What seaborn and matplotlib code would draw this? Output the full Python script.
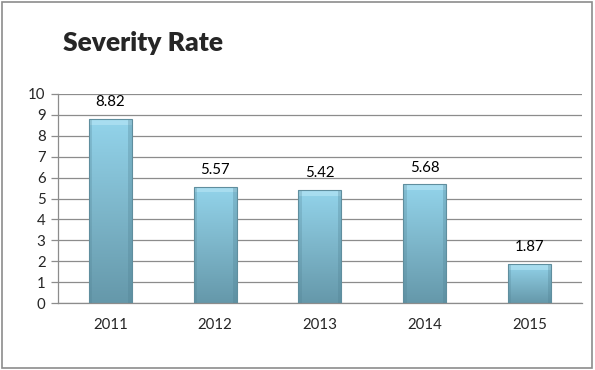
import numpy as np
import pandas as pd
import matplotlib
matplotlib.use("Agg")
import matplotlib.pyplot as plt
import matplotlib.patches as mpatches
from matplotlib.colors import LinearSegmentedColormap
import seaborn as sns

# data
years = ["2011", "2012", "2013", "2014", "2015"]
severity = [8.82, 5.57, 5.42, 5.68, 1.87]
y_ticks = list(range(0, 11))

df = pd.DataFrame({"year": years, "rate": severity})

sns.set_style("white")
plt.rcParams["font.family"] = ["Lato", "DejaVu Sans"]

fig = plt.figure(figsize=(5.95, 3.70), dpi=100)
ax = fig.add_axes([0.0975, 0.181, 0.8805, 0.565])

sns.barplot(data=df, x="year", y="rate", color="#8ccde4", width=0.41,
            saturation=1, ax=ax, zorder=3)

# gradient fill on each bar, light at the top and darker at the bottom
cmap = LinearSegmentedColormap.from_list("bar", ["#6598aa", "#7db6ca", "#93d4eb"])
grad = np.linspace(0, 1, 256).reshape(-1, 1)
for p in ax.patches:
    x0, y0 = p.get_x(), p.get_y()
    w, h = p.get_width(), p.get_height()
    p.set_facecolor("none")
    p.set_edgecolor("#5f8e9e")
    p.set_linewidth(0.8)
    im = ax.imshow(grad, cmap=cmap, origin="lower", aspect="auto",
                   extent=[x0, x0 + w, y0, y0 + h], zorder=2.5)
    im.set_clip_path(p)
    # bevel highlight at the top edge and the sides
    ax.add_patch(mpatches.Rectangle((x0, y0 + h - 0.28), w, 0.28,
                                    facecolor="#b8e6f5", alpha=0.6,
                                    edgecolor="none", zorder=2.7))
    ax.add_patch(mpatches.Rectangle((x0, y0), w * 0.08, h,
                                    facecolor="#4f7f90", alpha=0.25,
                                    edgecolor="none", zorder=2.7))
    ax.add_patch(mpatches.Rectangle((x0 + w * 0.92, y0), w * 0.08, h,
                                    facecolor="#4f7f90", alpha=0.3,
                                    edgecolor="none", zorder=2.7))
    ax.annotate(f"{h:.2f}", (x0 + w / 2, h), xytext=(0, 7),
                textcoords="offset points", ha="center", va="bottom",
                fontsize=10.8, color="#000000")

ax.set_xlim(-0.5, len(years) - 0.5)
ax.set_ylim(0, 10)
ax.set_yticks(y_ticks)
ax.yaxis.grid(True, color="#8c8c8c", linewidth=0.9, zorder=0)
ax.set_axisbelow(True)
ax.set_xlabel("")
ax.set_ylabel("")

for side in ["top", "right"]:
    ax.spines[side].set_visible(False)
for side in ["left", "bottom"]:
    ax.spines[side].set_color("#8c8c8c")
    ax.spines[side].set_linewidth(0.9)

ax.set_xticks(np.arange(-0.5, len(years)), minor=True)
ax.tick_params(axis="x", which="major", length=0, pad=11, labelsize=10.8)
ax.tick_params(axis="x", which="minor", length=5, color="#8c8c8c", width=0.9,
               direction="out")
ax.tick_params(axis="y", length=5, color="#8c8c8c", width=0.9, labelsize=10.8,
               pad=4, left=True, direction="out")

fig.text(0.106, 0.885, "Severity Rate", fontsize=19, fontweight="heavy",
         ha="left", va="center")

# outer chart border
fig.add_artist(mpatches.Rectangle((0.004, 0.006), 0.991, 0.988,
                                  transform=fig.transFigure, fill=False,
                                  edgecolor="#8c8c8c", linewidth=1.2))

fig.savefig("out.png", dpi=100, facecolor="white")
